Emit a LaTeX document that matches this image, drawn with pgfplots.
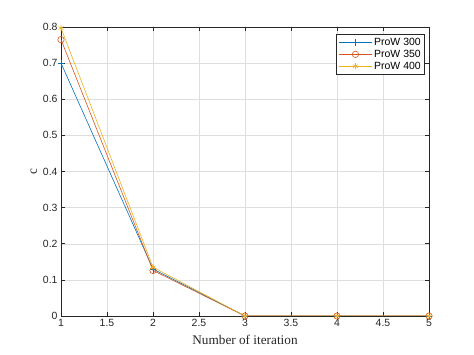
\documentclass[border=0pt]{standalone}
\usepackage{pgfplots}
\pgfplotsset{compat=1.18}
\usepackage{fontspec}
\setmainfont{Liberation Serif}
\newfontfamily\helv{Liberation Sans}
\definecolor{mblue}{rgb}{0,0.447,0.741}
\definecolor{morange}{rgb}{0.85,0.325,0.098}
\definecolor{myellow}{rgb}{0.929,0.694,0.125}
\definecolor{mgrid}{rgb}{0.87,0.87,0.87}
\definecolor{maxis}{rgb}{0.15,0.15,0.15}
\begin{document}
\begin{tikzpicture}
\begin{axis}[
  scale only axis, width=368bp, height=289bp,
  xmin=1, xmax=5, ymin=0, ymax=0.8,
  xtick={1,1.5,...,5}, ytick={0,0.1,...,0.8},
  xticklabels={1,1.5,2,2.5,3,3.5,4,4.5,5},
  yticklabels={0,0.1,0.2,0.3,0.4,0.5,0.6,0.7,0.8},
  tick label style={font=\helv\fontsize{10.5}{12}\selectfont, text=maxis},
  tick align=inside, tick pos=both, major tick length=4bp,
  axis line style={maxis, line width=0.5pt},
  every tick/.style={maxis, line width=0.5pt},
  grid=major, major grid style={mgrid, line width=0.4pt},
  xlabel={Number of iteration}, ylabel={c},
  label style={font=\fontsize{13.3}{15}\selectfont, text=maxis},
  xlabel style={yshift=-1bp},
  ylabel style={yshift=-1bp},
  legend style={font=\helv\fontsize{10.5}{12}\selectfont, draw=maxis, line width=0.5pt, at={(0.989,0.976)}, anchor=north east, inner sep=2pt, row sep=-1pt},
  legend cell align=left,
  legend image code/.code={\draw[mark repeat=2,mark phase=2,#1] plot coordinates {(0cm,0cm)(0.58cm,0cm)(1.16cm,0cm)};},
]
\coordinate (sw) at (rel axis cs:0,0);
\coordinate (ne) at (rel axis cs:1,1);
\addplot[mblue, line width=0.6pt, mark=+, mark size=3.5pt] coordinates {(1,0.70) (2,0.130) (3,0) (4,0) (5,0)};
\addplot[morange, line width=0.6pt, mark=o, mark size=3.2pt] coordinates {(1,0.765) (2,0.126) (3,0) (4,0) (5,0)};
\addplot[myellow, line width=0.6pt, mark=asterisk, mark size=3pt] coordinates {(1,0.797) (2,0.135) (3,0) (4,0) (5,0)};
\legend{ProW 300, ProW 350, ProW 400}
\end{axis}
\path ([shift={(-61bp,-39bp)}]sw) rectangle ([shift={(45bp,27bp)}]ne);
\end{tikzpicture}
\end{document}
